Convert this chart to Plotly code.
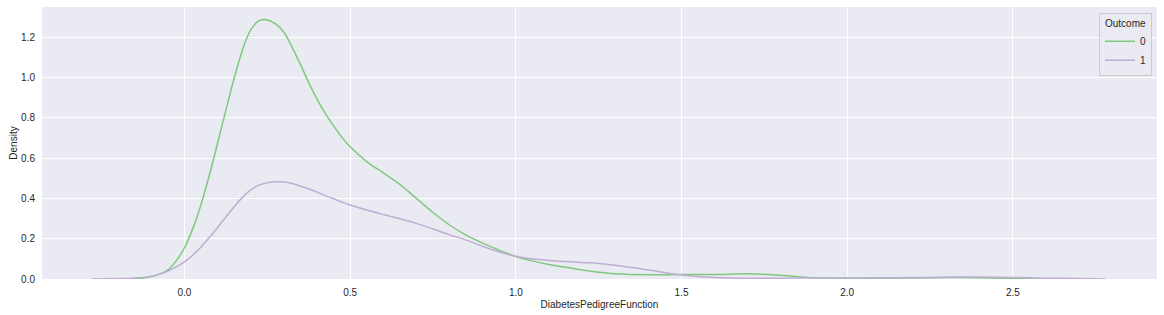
import plotly.graph_objects as go

# Outcome 0 density curve
x0 = [-0.18, -0.15, -0.125, -0.1, -0.075, -0.05, -0.025, 0.0, 0.025, 0.05, 0.075, 0.1, 0.125, 0.15, 0.175,
      0.2, 0.225, 0.25, 0.275, 0.3, 0.325, 0.35, 0.375, 0.4, 0.425, 0.45, 0.475, 0.5,
      0.55, 0.6, 0.65, 0.7, 0.75, 0.8, 0.85, 0.9, 0.95, 1.0, 1.05, 1.1, 1.15, 1.2, 1.25, 1.3, 1.4,
      1.5, 1.6, 1.7, 1.8, 1.9, 2.0, 2.1, 2.2, 2.3, 2.4, 2.5, 2.59]
y0 = [0.0, 0.002, 0.005, 0.012, 0.024, 0.045, 0.09, 0.155, 0.25, 0.37, 0.515, 0.675, 0.838, 0.996, 1.137,
      1.236, 1.282, 1.286, 1.266, 1.225, 1.15, 1.065, 0.975, 0.893, 0.822, 0.76, 0.703, 0.656,
      0.583, 0.527, 0.47, 0.40, 0.33, 0.268, 0.218, 0.178, 0.143, 0.112, 0.09, 0.072, 0.058, 0.045, 0.034, 0.026, 0.021,
      0.022, 0.022, 0.026, 0.018, 0.006, 0.004, 0.004, 0.005, 0.007, 0.006, 0.003, 0.0]

# Outcome 1 density curve
x1 = [-0.28, -0.2, -0.15, -0.1, -0.075, -0.05, -0.025, 0.0, 0.025, 0.05, 0.075, 0.1, 0.125, 0.15, 0.175,
      0.2, 0.225, 0.25, 0.275, 0.3, 0.325, 0.35, 0.375, 0.4, 0.425, 0.45, 0.475, 0.5,
      0.55, 0.6, 0.65, 0.7, 0.75, 0.8, 0.85, 0.9, 0.95, 1.0, 1.05, 1.1, 1.15, 1.2, 1.25, 1.3, 1.4, 1.5,
      1.6, 1.7, 1.8, 1.9, 2.0, 2.1, 2.2, 2.3, 2.4, 2.5, 2.6, 2.7, 2.78]
y1 = [0.0, 0.002, 0.005, 0.013, 0.024, 0.04, 0.06, 0.085, 0.118, 0.159, 0.206, 0.256, 0.308, 0.359, 0.405,
      0.442, 0.466, 0.478, 0.483, 0.481, 0.474, 0.462, 0.447, 0.431, 0.414, 0.398, 0.382, 0.367,
      0.342, 0.32, 0.299, 0.276, 0.248, 0.22, 0.193, 0.162, 0.134, 0.113, 0.1, 0.092, 0.087, 0.082, 0.077, 0.068, 0.045, 0.02,
      0.007, 0.004, 0.004, 0.005, 0.005, 0.006, 0.007, 0.009, 0.01, 0.008, 0.004, 0.002, 0.0]

series_names = ["0", "1"]
colors = ["#7fc97f", "#beaed4"]

x_ticks = [0.0, 0.5, 1.0, 1.5, 2.0, 2.5]
y_ticks = [0.0, 0.2, 0.4, 0.6, 0.8, 1.0, 1.2]

fig = go.Figure()
for xs, ys, name, c in zip([x0, x1], [y0, y1], series_names, colors):
    fig.add_trace(go.Scatter(x=xs, y=ys, mode="lines", name=name,
                             line=dict(color=c, width=1.5, shape="spline", smoothing=1.0)))

font_family = "Liberation Sans, Arial, sans-serif"
fig.update_layout(
    width=1164, height=315,
    margin=dict(l=42, r=7, t=7, b=36),
    paper_bgcolor="white",
    plot_bgcolor="#EAEAF2",
    font=dict(family=font_family, size=10, color="#262626"),
    showlegend=True,
    legend=dict(
        title=dict(text="Outcome", side="top center", font=dict(size=10)),
        x=0.9955, y=0.979, xanchor="right", yanchor="top",
        bgcolor="rgba(234,234,242,0.8)", bordercolor="#cccccc", borderwidth=1,
        font=dict(size=10), itemwidth=30, tracegroupgap=0,
    ),
    xaxis=dict(
        range=[-0.43, 2.935], tickvals=x_ticks, tickformat=".1f",
        showgrid=True, gridcolor="white", gridwidth=1, zeroline=False, showline=False,
        ticks="", ticklabelstandoff=6,
        title=dict(text="DiabetesPedigreeFunction", standoff=3, font=dict(size=10)),
    ),
    yaxis=dict(
        range=[0, 1.35], tickvals=y_ticks, tickformat=".1f",
        showgrid=True, gridcolor="white", gridwidth=1, zeroline=False, showline=False,
        ticks="", ticklabelstandoff=6,
        title=dict(text="Density", standoff=1, font=dict(size=10)),
    ),
)

fig.write_html("out.html")
